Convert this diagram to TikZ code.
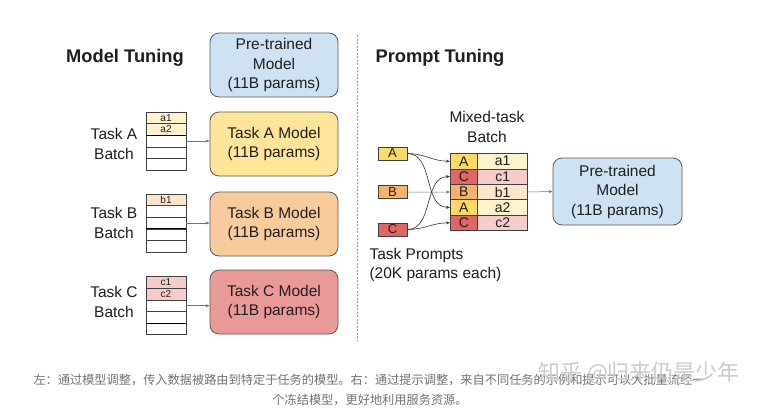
\documentclass[tikz,border=0pt]{standalone}
\usepackage{fontspec}
\setmainfont{Liberation Sans}
\newfontfamily\cjk{Noto Sans CJK SC}
\usetikzlibrary{arrows.meta, positioning}
\usepackage{xcolor}

\definecolor{mblue}{HTML}{CFE2F3}
\definecolor{myellow}{HTML}{FFE599}
\definecolor{morange}{HTML}{F9CB9C}
\definecolor{mred}{HTML}{EA9999}
\definecolor{pyellow}{HTML}{FFD966}
\definecolor{porange}{HTML}{F6B26B}
\definecolor{pred}{HTML}{E06666}
\definecolor{lyellow}{HTML}{FFF2CC}
\definecolor{lorange}{HTML}{FCE5CD}
\definecolor{lred}{HTML}{F4CCCC}

\begin{document}
\begin{tikzpicture}[
  x=1pt, y=-1pt,
  font=\fontsize{15.5}{19.5}\selectfont, text=black!88,
  model/.style={draw=black!65, rounded corners=9pt, line width=0.8pt,
                minimum width=128pt, minimum height=64pt,
                align=center, inner sep=2pt},
  title/.style={font=\fontsize{18.3}{22}\selectfont\bfseries},
  cell/.style={draw=black!75, line width=0.5pt, outer sep=0pt,
               minimum width=40pt, minimum height=11.6pt, inner sep=0pt,
               font=\fontsize{10}{10}\selectfont},
  bcell/.style={draw=black!75, line width=0.5pt, outer sep=0pt,
                minimum height=15.4pt, inner sep=0pt,
                font=\fontsize{14}{14}\selectfont},
  prompt/.style={draw=black!75, line width=0.5pt,
                 minimum width=29pt, minimum height=13pt, inner sep=0pt,
                 font=\fontsize{13}{13}\selectfont},
  captext/.style={font=\fontsize{12.2}{14}\selectfont\cjk, text=black!55},
  arr/.style={-{Stealth[length=4pt,width=3pt]}, draw=black!55, line width=0.5pt},
  carr/.style={-{Stealth[length=4pt,width=3pt]}, draw=black!80, line width=0.6pt}
]
  \fill[white] (0,0) rectangle (763,408);
  \useasboundingbox (0,0) rectangle (763,408);

  % model tuning
  \node[title] (mtitle) at (125,58) {Model Tuning};
  \node[model, fill=mblue] (pre1) at (274,65) {Pre-trained\\Model\\(11B params)};

  \node[align=center] (la) at (114,144) {Task A\\Batch};
  \node[cell, fill=lyellow] (ta1) at (166,117.8) {a1};
  \node[cell, fill=lyellow, below=0pt of ta1] (ta2) {a2};
  \node[cell, below=0pt of ta2] (ta3) {};
  \node[cell, below=0pt of ta3] (ta4) {};
  \node[cell, below=0pt of ta4] (ta5) {};
  \draw[line width=1.2pt] (ta2.south west) -- (ta2.south east);
  \node[model, fill=myellow] (ma) at (274,144) {Task A Model\\(11B params)};

  \node[align=center] (lb) at (114,223) {Task B\\Batch};
  \node[cell, fill=lorange] (tb1) at (166,199.8) {b1};
  \node[cell, below=0pt of tb1] (tb2) {};
  \node[cell, below=0pt of tb2] (tb3) {};
  \node[cell, below=0pt of tb3] (tb4) {};
  \node[cell, below=0pt of tb4] (tb5) {};
  \draw[line width=1.2pt] (tb3.south west) -- (tb3.south east);
  \node[model, fill=morange] (mb) at (274,224) {Task B Model\\(11B params)};

  \node[align=center] (lc) at (114,302) {Task C\\Batch};
  \node[cell, fill=lred] (tc1) at (166,282.5) {c1};
  \node[cell, fill=lred, below=0pt of tc1] (tc2) {c2};
  \node[cell, below=0pt of tc2] (tc3) {};
  \node[cell, below=0pt of tc3] (tc4) {};
  \node[cell, below=0pt of tc4] (tc5) {};
  \draw[line width=1.2pt] (tc4.south west) -- (tc4.south east);
  \node[model, fill=mred] (mc) at (274,302) {Task C Model\\(11B params)};

  \draw[arr] (ta3.east) -- (ta3.east -| ma.west);
  \draw[arr] (tb3.east) -- (tb3.east -| mb.west);
  \draw[arr] (tc3.east) -- (tc3.east -| mc.west);

  % divider
  \draw[black!40, line width=0.7pt, dash pattern=on 2pt off 1.5pt] (357,35) -- (357,340);

  % prompt tuning
  \node[title] (ptitle) at (440,58) {Prompt Tuning};
  \node[align=center] (mix) at (487,127) {Mixed-task\\Batch};

  \node[prompt, fill=pyellow] (pa) at (392.5,153.5) {A};
  \node[prompt, fill=porange] (pb) at (392.5,192) {B};
  \node[prompt, fill=pred] (pc) at (392.5,229.5) {C};

  \node[bcell, minimum width=27.7pt, fill=pyellow] (k1) at (463.8,161.2) {A};
  \node[bcell, minimum width=27.7pt, fill=pred, below=0pt of k1] (k2) {C};
  \node[bcell, minimum width=27.7pt, fill=porange, below=0pt of k2] (k3) {B};
  \node[bcell, minimum width=27.7pt, fill=pyellow, below=0pt of k3] (k4) {A};
  \node[bcell, minimum width=27.7pt, fill=pred, below=0pt of k4] (k5) {C};
  \node[bcell, minimum width=50pt, fill=lyellow, right=0pt of k1] (v1) {a1};
  \node[bcell, minimum width=50pt, fill=lred, right=0pt of k2] (v2) {c1};
  \node[bcell, minimum width=50pt, fill=lorange, right=0pt of k3] (v3) {b1};
  \node[bcell, minimum width=50pt, fill=lyellow, right=0pt of k4] (v4) {a2};
  \node[bcell, minimum width=50pt, fill=lred, right=0pt of k5] (v5) {c2};

  \draw[carr] (pa.east) to[out=0, in=180] (k1.west);
  \draw[carr] (pa.east) to[out=0, in=180] (k4.west);
  \draw[arr]  (pb.east) -- (k3.west);
  \draw[carr] (pc.east) to[out=0, in=180] (k2.west);
  \draw[carr] (pc.east) to[out=0, in=180] (k5.west);

  \node[model, fill=mblue, minimum width=129pt, minimum height=67pt] (pre2) at (617.5,191.5) {Pre-trained\\Model\\(11B params)};
  \draw[arr] (v3.east) -- (pre2.west);

  \node[align=left, anchor=west] (tp) at (366,265) {Task Prompts\\(20K params each)};

  % caption
  \node[captext] (cap1) at (369,380) {左：通过模型调整，传入数据被路由到特定于任务的模型。右：通过提示调整，来自不同任务的示例和提示可以大批量流经一};
  \node[captext] (cap2) at (370,400) {个冻结模型，更好地利用服务资源。};
  \node[font=\fontsize{22}{24}\selectfont\cjk, text=black!20] (wm) at (639,373) {知乎 @归来仍是少年};
\end{tikzpicture}
\end{document}
